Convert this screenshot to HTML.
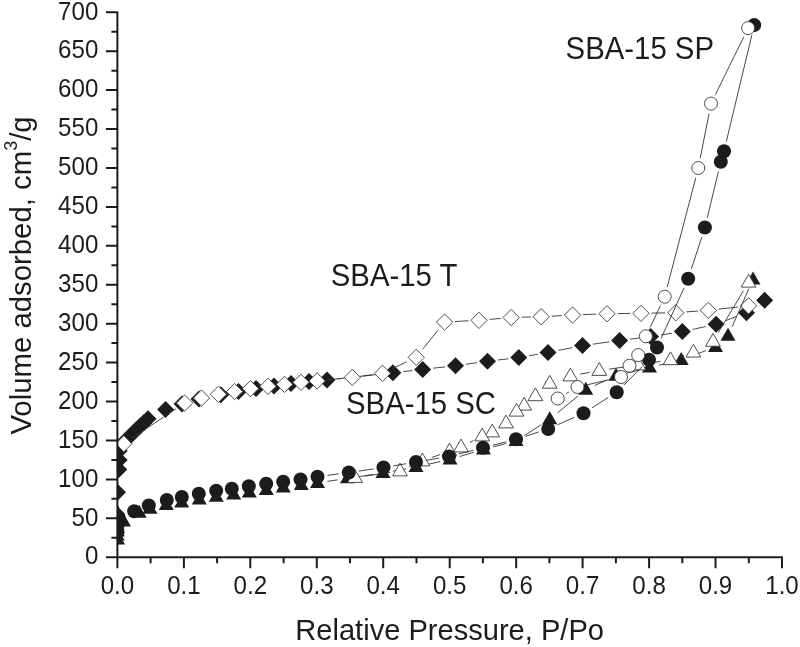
<!DOCTYPE html>
<html><head><meta charset="utf-8"><title>N2 adsorption isotherms</title>
<style>html,body{margin:0;padding:0;background:#fff}svg{display:block;filter:blur(0.45px)}</style></head>
<body><svg width="800" height="647" viewBox="0 0 800 647">
<rect width="800" height="647" fill="#fff"/>
<defs><clipPath id="c"><rect x="117.1" y="0" width="700" height="557.2"/></clipPath></defs>
<g clip-path="url(#c)">
<path d="M337.4 378.9L382.5 373.9M403.3 371.6L412.3 370.6M433.1 368.2L445.1 366.9M465.9 364.3L477.1 362.7M497.9 360.0L508.3 358.8M529.1 355.7L537.7 354.3M558.3 350.4L572.2 347.7M592.9 344.2L609.2 341.9M630.0 339.2L640.2 337.9M661.0 335.0L671.9 333.2M692.6 329.4L705.8 326.5M725.9 320.6L736.7 316.4" stroke="#333" stroke-width="0.9" fill="none"/>
<path d="M117.5 483.8l8.5 8.5l-8.5 8.5l-8.5 -8.5z" fill="#1c1c1c"/><path d="M118.8 461.0l8.5 8.5l-8.5 8.5l-8.5 -8.5z" fill="#1c1c1c"/><path d="M119.2 451.5l8.5 8.5l-8.5 8.5l-8.5 -8.5z" fill="#1c1c1c"/><path d="M119.2 442.2l8.5 8.5l-8.5 8.5l-8.5 -8.5z" fill="#1c1c1c"/><path d="M121.0 437.0l8.5 8.5l-8.5 8.5l-8.5 -8.5z" fill="#1c1c1c"/><path d="M124.5 433.0l8.5 8.5l-8.5 8.5l-8.5 -8.5z" fill="#1c1c1c"/><path d="M128.0 429.5l8.5 8.5l-8.5 8.5l-8.5 -8.5z" fill="#1c1c1c"/><path d="M132.0 425.5l8.5 8.5l-8.5 8.5l-8.5 -8.5z" fill="#1c1c1c"/><path d="M136.0 421.5l8.5 8.5l-8.5 8.5l-8.5 -8.5z" fill="#1c1c1c"/><path d="M140.0 417.7l8.5 8.5l-8.5 8.5l-8.5 -8.5z" fill="#1c1c1c"/><path d="M144.0 413.9l8.5 8.5l-8.5 8.5l-8.5 -8.5z" fill="#1c1c1c"/><path d="M148.0 410.2l8.5 8.5l-8.5 8.5l-8.5 -8.5z" fill="#1c1c1c"/><path d="M165.6 400.9l8.5 8.5l-8.5 8.5l-8.5 -8.5z" fill="#1c1c1c"/><path d="M182.0 395.5l8.5 8.5l-8.5 8.5l-8.5 -8.5z" fill="#1c1c1c"/><path d="M199.0 390.5l8.5 8.5l-8.5 8.5l-8.5 -8.5z" fill="#1c1c1c"/><path d="M220.8 386.3l8.5 8.5l-8.5 8.5l-8.5 -8.5z" fill="#1c1c1c"/><path d="M238.5 383.0l8.5 8.5l-8.5 8.5l-8.5 -8.5z" fill="#1c1c1c"/><path d="M256.0 380.1l8.5 8.5l-8.5 8.5l-8.5 -8.5z" fill="#1c1c1c"/><path d="M274.0 377.5l8.5 8.5l-8.5 8.5l-8.5 -8.5z" fill="#1c1c1c"/><path d="M291.0 374.9l8.5 8.5l-8.5 8.5l-8.5 -8.5z" fill="#1c1c1c"/><path d="M309.0 373.0l8.5 8.5l-8.5 8.5l-8.5 -8.5z" fill="#1c1c1c"/><path d="M327.0 371.5l8.5 8.5l-8.5 8.5l-8.5 -8.5z" fill="#1c1c1c"/><path d="M392.9 364.3l8.5 8.5l-8.5 8.5l-8.5 -8.5z" fill="#1c1c1c"/><path d="M422.7 360.9l8.5 8.5l-8.5 8.5l-8.5 -8.5z" fill="#1c1c1c"/><path d="M455.5 357.2l8.5 8.5l-8.5 8.5l-8.5 -8.5z" fill="#1c1c1c"/><path d="M487.5 352.8l8.5 8.5l-8.5 8.5l-8.5 -8.5z" fill="#1c1c1c"/><path d="M518.8 349.0l8.5 8.5l-8.5 8.5l-8.5 -8.5z" fill="#1c1c1c"/><path d="M548.0 344.0l8.5 8.5l-8.5 8.5l-8.5 -8.5z" fill="#1c1c1c"/><path d="M582.5 337.1l8.5 8.5l-8.5 8.5l-8.5 -8.5z" fill="#1c1c1c"/><path d="M619.6 332.0l8.5 8.5l-8.5 8.5l-8.5 -8.5z" fill="#1c1c1c"/><path d="M650.6 328.1l8.5 8.5l-8.5 8.5l-8.5 -8.5z" fill="#1c1c1c"/><path d="M682.3 323.1l8.5 8.5l-8.5 8.5l-8.5 -8.5z" fill="#1c1c1c"/><path d="M716.1 315.8l8.5 8.5l-8.5 8.5l-8.5 -8.5z" fill="#1c1c1c"/><path d="M746.5 304.2l8.5 8.5l-8.5 8.5l-8.5 -8.5z" fill="#1c1c1c"/><path d="M764.6 291.7l8.5 8.5l-8.5 8.5l-8.5 -8.5z" fill="#1c1c1c"/>
<path d="M738.1 307.0L718.7 309.1M697.8 311.1L686.3 311.9M665.3 312.9L651.5 313.1M630.5 313.4L617.5 313.6M596.5 314.1L583.0 314.6M562.0 315.6L551.7 316.2M530.8 317.0L521.7 317.2M500.8 318.4L489.5 319.4M468.5 320.8L455.1 321.5M438.0 330.2L422.8 349.1M406.7 361.8L392.0 368.9M372.1 374.8L362.7 376.0M341.9 378.4L327.5 379.9M175.9 408.8L132.5 437.9" stroke="#333" stroke-width="0.9" fill="none"/>
<path d="M748.5 297.7l8.15 8.15l-8.15 8.15l-8.15 -8.15z" fill="#fff" stroke="#3a3a3a" stroke-width="0.9"/><path d="M708.3 302.2l8.15 8.15l-8.15 8.15l-8.15 -8.15z" fill="#fff" stroke="#3a3a3a" stroke-width="0.9"/><path d="M675.8 304.6l8.15 8.15l-8.15 8.15l-8.15 -8.15z" fill="#fff" stroke="#3a3a3a" stroke-width="0.9"/><path d="M641.0 305.2l8.15 8.15l-8.15 8.15l-8.15 -8.15z" fill="#fff" stroke="#3a3a3a" stroke-width="0.9"/><path d="M607.0 305.6l8.15 8.15l-8.15 8.15l-8.15 -8.15z" fill="#fff" stroke="#3a3a3a" stroke-width="0.9"/><path d="M572.5 306.9l8.15 8.15l-8.15 8.15l-8.15 -8.15z" fill="#fff" stroke="#3a3a3a" stroke-width="0.9"/><path d="M541.2 308.6l8.15 8.15l-8.15 8.15l-8.15 -8.15z" fill="#fff" stroke="#3a3a3a" stroke-width="0.9"/><path d="M511.2 309.4l8.15 8.15l-8.15 8.15l-8.15 -8.15z" fill="#fff" stroke="#3a3a3a" stroke-width="0.9"/><path d="M479.0 312.2l8.15 8.15l-8.15 8.15l-8.15 -8.15z" fill="#fff" stroke="#3a3a3a" stroke-width="0.9"/><path d="M444.6 313.9l8.15 8.15l-8.15 8.15l-8.15 -8.15z" fill="#fff" stroke="#3a3a3a" stroke-width="0.9"/><path d="M416.2 349.2l8.15 8.15l-8.15 8.15l-8.15 -8.15z" fill="#fff" stroke="#3a3a3a" stroke-width="0.9"/><path d="M382.5 365.2l8.15 8.15l-8.15 8.15l-8.15 -8.15z" fill="#fff" stroke="#3a3a3a" stroke-width="0.9"/><path d="M352.3 369.2l8.15 8.15l-8.15 8.15l-8.15 -8.15z" fill="#fff" stroke="#3a3a3a" stroke-width="0.9"/><path d="M317.1 372.8l8.15 8.15l-8.15 8.15l-8.15 -8.15z" fill="#fff" stroke="#3a3a3a" stroke-width="0.9"/><path d="M301.0 374.2l8.15 8.15l-8.15 8.15l-8.15 -8.15z" fill="#fff" stroke="#3a3a3a" stroke-width="0.9"/><path d="M284.5 376.2l8.15 8.15l-8.15 8.15l-8.15 -8.15z" fill="#fff" stroke="#3a3a3a" stroke-width="0.9"/><path d="M268.0 378.2l8.15 8.15l-8.15 8.15l-8.15 -8.15z" fill="#fff" stroke="#3a3a3a" stroke-width="0.9"/><path d="M250.5 380.5l8.15 8.15l-8.15 8.15l-8.15 -8.15z" fill="#fff" stroke="#3a3a3a" stroke-width="0.9"/><path d="M234.6 383.4l8.15 8.15l-8.15 8.15l-8.15 -8.15z" fill="#fff" stroke="#3a3a3a" stroke-width="0.9"/><path d="M218.4 386.1l8.15 8.15l-8.15 8.15l-8.15 -8.15z" fill="#fff" stroke="#3a3a3a" stroke-width="0.9"/><path d="M201.5 389.9l8.15 8.15l-8.15 8.15l-8.15 -8.15z" fill="#fff" stroke="#3a3a3a" stroke-width="0.9"/><path d="M184.6 394.9l8.15 8.15l-8.15 8.15l-8.15 -8.15z" fill="#fff" stroke="#3a3a3a" stroke-width="0.9"/><path d="M123.8 435.6l8.15 8.15l-8.15 8.15l-8.15 -8.15z" fill="#fff" stroke="#3a3a3a" stroke-width="0.9"/>
<path d="M327.4 481.4L337.6 479.8M357.4 476.8L373.1 474.5M392.8 471.2L406.2 468.8M425.8 464.8L440.2 461.6M459.6 456.5L473.9 452.3M493.2 446.9L506.3 443.5M524.4 435.6L541.3 424.7M557.5 412.9L578.0 396.0M594.8 385.5L606.9 379.9M625.7 373.4L639.8 369.9M659.2 365.2L671.5 362.3M690.6 356.5L706.1 350.5M732.1 326.7L748.9 288.6" stroke="#333" stroke-width="0.9" fill="none"/>
<path d="M117.6 531.5L125.1 544.5L110.1 544.5z" fill="#1c1c1c"/><path d="M117.2 527.5L124.7 540.5L109.7 540.5z" fill="#1c1c1c"/><path d="M117.4 523.5L124.9 536.5L109.9 536.5z" fill="#1c1c1c"/><path d="M117.2 520.0L124.7 533.0L109.7 533.0z" fill="#1c1c1c"/><path d="M117.0 517.0L124.5 530.0L109.5 530.0z" fill="#1c1c1c"/><path d="M123.5 513.4L131.0 526.4L116.0 526.4z" fill="#1c1c1c"/><path d="M120.5 509.0L128.0 522.0L113.0 522.0z" fill="#1c1c1c"/><path d="M118.0 505.5L125.5 518.5L110.5 518.5z" fill="#1c1c1c"/><path d="M139.2 504.8L146.7 517.8L131.7 517.8z" fill="#1c1c1c"/><path d="M150.0 500.8L157.5 513.8L142.5 513.8z" fill="#1c1c1c"/><path d="M166.2 497.0L173.8 510.0L158.8 510.0z" fill="#1c1c1c"/><path d="M181.8 494.5L189.2 507.5L174.2 507.5z" fill="#1c1c1c"/><path d="M199.2 491.5L206.8 504.5L191.8 504.5z" fill="#1c1c1c"/><path d="M216.2 488.8L223.8 501.8L208.8 501.8z" fill="#1c1c1c"/><path d="M233.8 486.5L241.2 499.5L226.2 499.5z" fill="#1c1c1c"/><path d="M249.2 484.5L256.8 497.5L241.8 497.5z" fill="#1c1c1c"/><path d="M266.2 482.0L273.8 495.0L258.8 495.0z" fill="#1c1c1c"/><path d="M283.2 479.5L290.8 492.5L275.8 492.5z" fill="#1c1c1c"/><path d="M301.2 477.0L308.8 490.0L293.8 490.0z" fill="#1c1c1c"/><path d="M317.5 475.0L325.0 488.0L310.0 488.0z" fill="#1c1c1c"/><path d="M347.5 470.2L355.0 483.2L340.0 483.2z" fill="#1c1c1c"/><path d="M383.0 465.0L390.5 478.0L375.5 478.0z" fill="#1c1c1c"/><path d="M416.0 459.0L423.5 472.0L408.5 472.0z" fill="#1c1c1c"/><path d="M450.0 451.4L457.5 464.4L442.5 464.4z" fill="#1c1c1c"/><path d="M483.5 441.4L491.0 454.4L476.0 454.4z" fill="#1c1c1c"/><path d="M516.0 433.0L523.5 446.0L508.5 446.0z" fill="#1c1c1c"/><path d="M549.8 411.2L557.2 424.2L542.2 424.2z" fill="#1c1c1c"/><path d="M585.8 381.7L593.2 394.7L578.2 394.7z" fill="#1c1c1c"/><path d="M616.0 367.8L623.5 380.8L608.5 380.8z" fill="#1c1c1c"/><path d="M649.5 359.5L657.0 372.5L642.0 372.5z" fill="#1c1c1c"/><path d="M681.2 352.0L688.7 365.0L673.7 365.0z" fill="#1c1c1c"/><path d="M715.5 339.0L723.0 352.0L708.0 352.0z" fill="#1c1c1c"/><path d="M728.0 327.8L735.5 340.8L720.5 340.8z" fill="#1c1c1c"/><path d="M753.0 271.5L760.5 284.5L745.5 284.5z" fill="#1c1c1c"/>
<path d="M743.4 290.8L718.2 332.7M683.9 355.3L680.0 356.7M660.6 361.4L648.4 363.4M628.6 366.4L609.2 369.1M589.5 372.4L580.2 374.1M473.3 440.6L469.9 442.4M440.1 454.5L431.8 457.5M413.3 465.1L409.1 466.9M390.1 472.4L364.9 476.1" stroke="#333" stroke-width="0.9" fill="none"/>
<path d="M748.6 274.3L756.0 287.1L741.2 287.1z" fill="#fff" stroke="#3a3a3a" stroke-width="0.9"/><path d="M713.0 333.4L720.4 346.2L705.6 346.2z" fill="#fff" stroke="#3a3a3a" stroke-width="0.9"/><path d="M693.4 344.3L700.8 357.1L686.0 357.1z" fill="#fff" stroke="#3a3a3a" stroke-width="0.9"/><path d="M670.5 351.9L677.9 364.7L663.1 364.7z" fill="#fff" stroke="#3a3a3a" stroke-width="0.9"/><path d="M638.5 357.1L645.9 369.9L631.1 369.9z" fill="#fff" stroke="#3a3a3a" stroke-width="0.9"/><path d="M599.3 362.6L606.7 375.4L591.9 375.4z" fill="#fff" stroke="#3a3a3a" stroke-width="0.9"/><path d="M570.4 368.1L577.8 380.9L563.0 380.9z" fill="#fff" stroke="#3a3a3a" stroke-width="0.9"/><path d="M549.7 375.4L557.1 388.2L542.3 388.2z" fill="#fff" stroke="#3a3a3a" stroke-width="0.9"/><path d="M535.4 387.9L542.8 400.7L528.0 400.7z" fill="#fff" stroke="#3a3a3a" stroke-width="0.9"/><path d="M524.2 397.3L531.6 410.1L516.8 410.1z" fill="#fff" stroke="#3a3a3a" stroke-width="0.9"/><path d="M516.5 403.3L523.9 416.1L509.1 416.1z" fill="#fff" stroke="#3a3a3a" stroke-width="0.9"/><path d="M506.0 415.1L513.4 427.9L498.6 427.9z" fill="#fff" stroke="#3a3a3a" stroke-width="0.9"/><path d="M492.2 424.1L499.6 436.9L484.8 436.9z" fill="#fff" stroke="#3a3a3a" stroke-width="0.9"/><path d="M482.2 428.1L489.6 440.9L474.8 440.9z" fill="#fff" stroke="#3a3a3a" stroke-width="0.9"/><path d="M461.0 439.1L468.4 451.9L453.6 451.9z" fill="#fff" stroke="#3a3a3a" stroke-width="0.9"/><path d="M449.5 443.1L456.9 455.9L442.1 455.9z" fill="#fff" stroke="#3a3a3a" stroke-width="0.9"/><path d="M422.4 453.1L429.8 465.9L415.0 465.9z" fill="#fff" stroke="#3a3a3a" stroke-width="0.9"/><path d="M400.0 463.1L407.4 475.9L392.6 475.9z" fill="#fff" stroke="#3a3a3a" stroke-width="0.9"/><path d="M355.0 469.6L362.4 482.4L347.6 482.4z" fill="#fff" stroke="#3a3a3a" stroke-width="0.9"/>
<path d="M327.4 475.4L338.8 473.8M358.6 471.1L373.6 468.9M393.4 465.8L406.1 463.7M425.9 460.4L439.1 458.1M458.7 454.0L473.3 450.3M492.7 445.3L506.3 441.8M525.5 436.3L538.7 432.0M557.3 424.9L574.4 417.3M592.0 407.9L608.2 397.5M623.8 385.1L641.9 366.9M661.1 338.4L684.1 287.8M691.3 269.2L701.8 237.0M707.3 217.8L718.4 171.5M726.3 141.6L751.9 34.8" stroke="#333" stroke-width="0.9" fill="none"/>
<circle cx="117.5" cy="532.0" r="7.0" fill="#1c1c1c"/><circle cx="117.8" cy="524.0" r="7.0" fill="#1c1c1c"/><circle cx="118.5" cy="517.0" r="7.0" fill="#1c1c1c"/><circle cx="134.2" cy="511.2" r="7.0" fill="#1c1c1c"/><circle cx="148.8" cy="505.5" r="7.0" fill="#1c1c1c"/><circle cx="166.8" cy="500.0" r="7.0" fill="#1c1c1c"/><circle cx="181.8" cy="497.0" r="7.0" fill="#1c1c1c"/><circle cx="198.8" cy="493.8" r="7.0" fill="#1c1c1c"/><circle cx="216.2" cy="490.8" r="7.0" fill="#1c1c1c"/><circle cx="231.8" cy="488.8" r="7.0" fill="#1c1c1c"/><circle cx="248.8" cy="486.2" r="7.0" fill="#1c1c1c"/><circle cx="266.2" cy="483.8" r="7.0" fill="#1c1c1c"/><circle cx="283.2" cy="481.8" r="7.0" fill="#1c1c1c"/><circle cx="300.5" cy="479.4" r="7.0" fill="#1c1c1c"/><circle cx="317.5" cy="476.8" r="7.0" fill="#1c1c1c"/><circle cx="348.8" cy="472.5" r="7.0" fill="#1c1c1c"/><circle cx="383.5" cy="467.5" r="7.0" fill="#1c1c1c"/><circle cx="416.0" cy="462.0" r="7.0" fill="#1c1c1c"/><circle cx="449.0" cy="456.5" r="7.0" fill="#1c1c1c"/><circle cx="483.0" cy="447.8" r="7.0" fill="#1c1c1c"/><circle cx="516.0" cy="439.3" r="7.0" fill="#1c1c1c"/><circle cx="548.2" cy="429.0" r="7.0" fill="#1c1c1c"/><circle cx="583.5" cy="413.2" r="7.0" fill="#1c1c1c"/><circle cx="616.7" cy="392.2" r="7.0" fill="#1c1c1c"/><circle cx="649.0" cy="359.8" r="7.0" fill="#1c1c1c"/><circle cx="657.0" cy="347.5" r="7.0" fill="#1c1c1c"/><circle cx="688.2" cy="278.7" r="7.0" fill="#1c1c1c"/><circle cx="704.9" cy="227.5" r="7.0" fill="#1c1c1c"/><circle cx="720.8" cy="161.8" r="7.0" fill="#1c1c1c"/><circle cx="724.0" cy="151.3" r="7.0" fill="#1c1c1c"/><circle cx="754.2" cy="25.1" r="7.0" fill="#1c1c1c"/>
<path d="M743.7 37.1L715.4 94.6M709.1 113.4L700.2 158.2M695.8 177.7L667.2 287.0M660.4 305.7L650.2 327.3M611.3 379.2L587.2 384.8M568.9 392.0L566.3 393.5" stroke="#333" stroke-width="0.9" fill="none"/>
<circle cx="748.1" cy="28.1" r="6.5" fill="#fff" stroke="#3a3a3a" stroke-width="0.9"/><circle cx="711.0" cy="103.6" r="6.5" fill="#fff" stroke="#3a3a3a" stroke-width="0.9"/><circle cx="698.3" cy="168.0" r="6.5" fill="#fff" stroke="#3a3a3a" stroke-width="0.9"/><circle cx="664.7" cy="296.7" r="6.5" fill="#fff" stroke="#3a3a3a" stroke-width="0.9"/><circle cx="645.9" cy="336.3" r="6.5" fill="#fff" stroke="#3a3a3a" stroke-width="0.9"/><circle cx="638.2" cy="355.1" r="6.5" fill="#fff" stroke="#3a3a3a" stroke-width="0.9"/><circle cx="629.5" cy="365.7" r="6.5" fill="#fff" stroke="#3a3a3a" stroke-width="0.9"/><circle cx="621.0" cy="377.0" r="6.5" fill="#fff" stroke="#3a3a3a" stroke-width="0.9"/><circle cx="577.5" cy="387.0" r="6.5" fill="#fff" stroke="#3a3a3a" stroke-width="0.9"/><circle cx="557.7" cy="398.5" r="6.5" fill="#fff" stroke="#3a3a3a" stroke-width="0.9"/>
</g>
<path d="M117.4 11.5V568.2M105.9 557.2H782.8M150.6 557.2v6M183.9 557.2v11M217.1 557.2v6M250.3 557.2v11M283.6 557.2v6M316.8 557.2v11M350.0 557.2v6M383.2 557.2v11M416.5 557.2v6M449.7 557.2v11M482.9 557.2v6M516.2 557.2v11M549.4 557.2v6M582.6 557.2v11M615.9 557.2v6M649.1 557.2v11M682.3 557.2v6M715.5 557.2v11M748.8 557.2v6M782.0 557.2v11M117.4 537.7h-6M117.4 518.3h-11.5M117.4 498.8h-6M117.4 479.4h-11.5M117.4 459.9h-6M117.4 440.4h-11.5M117.4 421.0h-6M117.4 401.5h-11.5M117.4 382.1h-6M117.4 362.6h-11.5M117.4 343.1h-6M117.4 323.7h-11.5M117.4 304.2h-6M117.4 284.8h-11.5M117.4 265.3h-6M117.4 245.8h-11.5M117.4 226.4h-6M117.4 206.9h-11.5M117.4 187.4h-6M117.4 168.0h-11.5M117.4 148.5h-6M117.4 129.1h-11.5M117.4 109.6h-6M117.4 90.1h-11.5M117.4 70.7h-6M117.4 51.2h-11.5M117.4 31.8h-6M117.4 12.3h-11.5" stroke="#1c1c1c" stroke-width="2" fill="none"/>
<g font-family="Liberation Sans, sans-serif" fill="#1c1c1c">
<text transform="translate(117.4,594.2) scale(1,1.1)" font-size="24.1" text-anchor="middle">0.0</text>
<text transform="translate(183.9,594.2) scale(1,1.1)" font-size="24.1" text-anchor="middle">0.1</text>
<text transform="translate(250.3,594.2) scale(1,1.1)" font-size="24.1" text-anchor="middle">0.2</text>
<text transform="translate(316.8,594.2) scale(1,1.1)" font-size="24.1" text-anchor="middle">0.3</text>
<text transform="translate(383.2,594.2) scale(1,1.1)" font-size="24.1" text-anchor="middle">0.4</text>
<text transform="translate(449.7,594.2) scale(1,1.1)" font-size="24.1" text-anchor="middle">0.5</text>
<text transform="translate(516.2,594.2) scale(1,1.1)" font-size="24.1" text-anchor="middle">0.6</text>
<text transform="translate(582.6,594.2) scale(1,1.1)" font-size="24.1" text-anchor="middle">0.7</text>
<text transform="translate(649.1,594.2) scale(1,1.1)" font-size="24.1" text-anchor="middle">0.8</text>
<text transform="translate(715.5,594.2) scale(1,1.1)" font-size="24.1" text-anchor="middle">0.9</text>
<text transform="translate(782.0,594.2) scale(1,1.1)" font-size="24.1" text-anchor="middle">1.0</text>
<text transform="translate(98.3,564.4) scale(1,1.1)" font-size="24.1" text-anchor="end">0</text>
<text transform="translate(98.3,525.5) scale(1,1.1)" font-size="24.1" text-anchor="end">50</text>
<text transform="translate(98.3,486.5) scale(1,1.1)" font-size="24.1" text-anchor="end">100</text>
<text transform="translate(98.3,447.6) scale(1,1.1)" font-size="24.1" text-anchor="end">150</text>
<text transform="translate(98.3,408.7) scale(1,1.1)" font-size="24.1" text-anchor="end">200</text>
<text transform="translate(98.3,369.8) scale(1,1.1)" font-size="24.1" text-anchor="end">250</text>
<text transform="translate(98.3,330.9) scale(1,1.1)" font-size="24.1" text-anchor="end">300</text>
<text transform="translate(98.3,291.9) scale(1,1.1)" font-size="24.1" text-anchor="end">350</text>
<text transform="translate(98.3,253.0) scale(1,1.1)" font-size="24.1" text-anchor="end">400</text>
<text transform="translate(98.3,214.1) scale(1,1.1)" font-size="24.1" text-anchor="end">450</text>
<text transform="translate(98.3,175.2) scale(1,1.1)" font-size="24.1" text-anchor="end">500</text>
<text transform="translate(98.3,136.3) scale(1,1.1)" font-size="24.1" text-anchor="end">550</text>
<text transform="translate(98.3,97.3) scale(1,1.1)" font-size="24.1" text-anchor="end">600</text>
<text transform="translate(98.3,58.4) scale(1,1.1)" font-size="24.1" text-anchor="end">650</text>
<text transform="translate(98.3,19.5) scale(1,1.1)" font-size="24.1" text-anchor="end">700</text>
<text transform="translate(295.3,640.2) scale(1,1.03)" font-size="29.1" text-anchor="start">Relative Pressure, P/Po</text>
<text transform="translate(30.6,434.6) rotate(-90) scale(1,1.03)" font-size="29.35" text-anchor="start">Volume adsorbed, cm<tspan font-size="18" dy="-13.6">3</tspan><tspan dy="13.6">/g</tspan></text>
<text transform="translate(565.6,59.0) scale(1,1.05)" font-size="29.35" text-anchor="start">SBA-15 SP</text>
<text transform="translate(330.8,285.9) scale(1,1.05)" font-size="29.35" text-anchor="start">SBA-15 T</text>
<text transform="translate(346.0,413.5) scale(1,1.05)" font-size="29.35" text-anchor="start">SBA-15 SC</text>
</g>
</svg></body></html>
